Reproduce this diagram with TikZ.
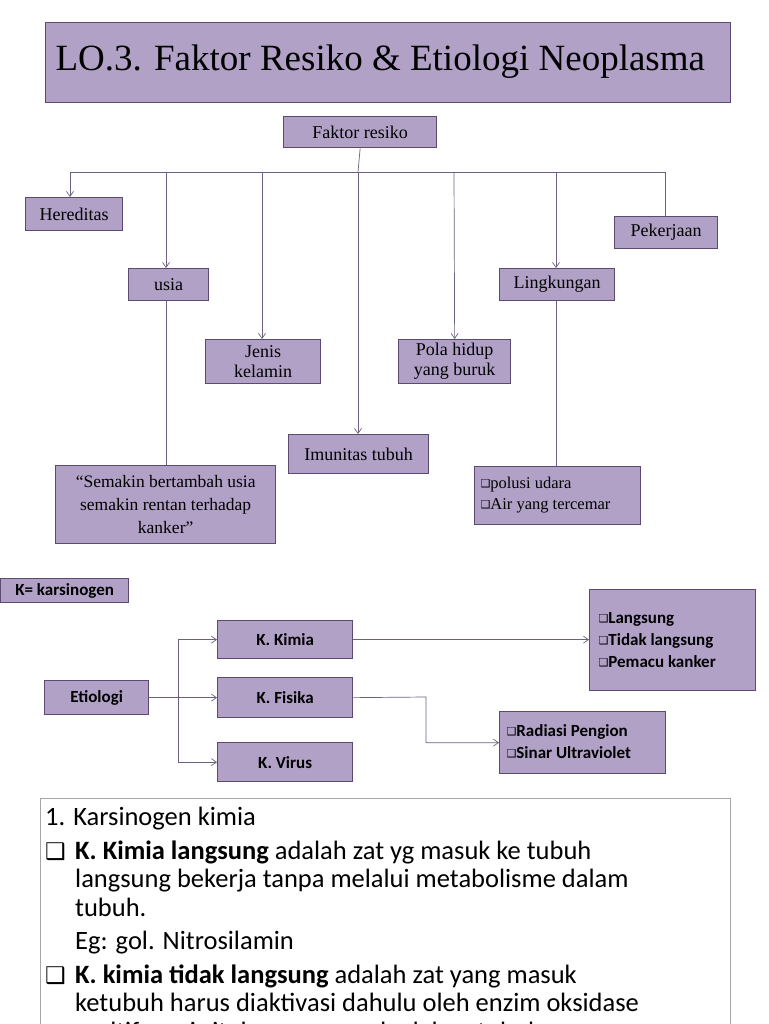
\documentclass[tikz,border=0pt]{standalone}
\usepackage{fontspec}
\setmainfont{Liberation Serif}
\newfontfamily\calfnt{Carlito}
\newfontfamily\djfnt{DejaVu Sans}
\usetikzlibrary{arrows.meta}
\definecolor{lav}{RGB}{178,161,199}
\definecolor{bd}{RGB}{92,74,114}
\definecolor{ln}{RGB}{110,96,130}
\tikzset{
 bx/.style={draw=bd,fill=lav,line width=1.3pt,inner sep=0pt,anchor=north west},
 ar/.style={draw=ln,line width=0.7pt,-{Straight Barb[length=5pt,width=7pt]}},
 pl/.style={draw=ln,line width=0.7pt},
 ft/.style={font=\fontsize{18}{20}\selectfont,align=center},
 fc/.style={font=\calfnt\bfseries\fontsize{17}{22}\selectfont,align=left},
}
\newcommand{\bxx}{{\djfnt\fontsize{11}{11}\selectfont\raisebox{1pt}{❑}}}
\begin{document}
\begin{tikzpicture}[x=1pt,y=-1pt]
\useasboundingbox (0,0) rectangle (768,1024);
\fill[white] (0,0) rectangle (768,1024);
% title
\node[bx,minimum width=685,minimum height=80] (title) at (45,22) {};
\node[anchor=west,font=\fontsize{37}{40}\selectfont] (tt) at (52,62) {LO.3. Faktor Resiko \& Etiologi Neoplasma};
% boxes
\node[bx,minimum width=153,minimum height=31] (fr) at (283,116) {};
\node[ft] at (fr.center) {Faktor resiko};
\node[bx,minimum width=97,minimum height=33] (her) at (25,197) {};
\node[ft] at (her.center) {Hereditas};
\node[bx,minimum width=80,minimum height=32] (usia) at (128,268) {};
\node[ft] at (usia.center) {usia};
\node[bx,minimum width=115,minimum height=44] (jk) at (205,339) {};
\node[ft] at (jk.center) {Jenis\\kelamin};
\node[bx,minimum width=140,minimum height=39] (imu) at (288,434) {};
\node[ft] at (imu.center) {Imunitas tubuh};
\node[bx,minimum width=112,minimum height=44] (pola) at (398,339) {};
\node[ft] at (pola.center) {Pola hidup\\yang buruk};
\node[bx,minimum width=115,minimum height=32] (ling) at (499,268) {};
\node[ft] at (ling.center) {Lingkungan};
\node[bx,minimum width=103,minimum height=32] (pek) at (614,216) {};
\node[ft] at (pek.center) {Pekerjaan};
\node[bx,minimum width=220,minimum height=78] (sem) at (55,465) {};
\node[ft,font=\fontsize{17.5}{23}\selectfont] at (sem.center) {``Semakin bertambah usia\\semakin rentan terhadap\\kanker''};
\node[bx,minimum width=166,minimum height=58] (pol) at (474,466) {};
\node[ft,align=left,font=\fontsize{16.5}{21}\selectfont,anchor=west] at (477,495) {\bxx polusi udara\\\bxx Air yang tercemar};
% connectors
\coordinate (bL) at (70,172); \coordinate (bR) at (665,172);
\draw[pl] (bL) -- (bR);
\draw[pl] (fr.south) -- (358,172);
\draw[ar] (bL) -- (her.north -| bL);
\draw[ar] (166,172) -- (usia.north -| 166,0);
\draw[ar] (262,172) -- (jk.north -| 262,0);
\draw[ar] (358,172) -- (imu.north -| 358,0);
\draw[ar] (454,172) -- (pola.north);
\draw[ar] (556,172) -- (ling.north -| 556,0);
\draw[pl] (bR) -- (pek.north -| bR);
\draw[pl] (usia.south -| 166,0) -- (sem.north -| 166,0);
\draw[pl] (ling.south -| 556,0) -- (pol.north -| 556,0);
% etiologi
\node[bx,minimum width=128,minimum height=24] (kk) at (0,578) {};
\node[fc] at (kk.center) {K= karsinogen};
\node[bx,minimum width=104,minimum height=34] (eti) at (44,680) {};
\node[fc] at (eti.center) {Etiologi};
\node[bx,minimum width=135,minimum height=38] (kim) at (217,620) {};
\node[fc] at (kim.center) {K. Kimia};
\node[bx,minimum width=135,minimum height=40] (fis) at (217,677) {};
\node[fc] at (fis.center) {K. Fisika};
\node[bx,minimum width=135,minimum height=39] (vir) at (217,742) {};
\node[fc] at (vir.center) {K. Virus};
\node[bx,minimum width=166,minimum height=101] (lan) at (589,589) {};
\node[fc,anchor=west] at (595,640) {\bxx Langsung\\\bxx Tidak langsung\\\bxx Pemacu kanker};
\node[bx,minimum width=166,minimum height=62] (rad) at (499,711) {};
\node[fc,anchor=west] at (503,742) {\bxx Radiasi Pengion\\\bxx Sinar Ultraviolet};
\coordinate (br) at (178,697);
\draw[ar] (eti.east) -- (fis.west);
\draw[ar] (br) |- (kim.west);
\draw[ar] (br) |- (vir.west);
\draw[ar] (kim.east) -- (lan.west |- kim.east);
\draw[ar] (fis.east) -- (426,697) |- (rad.west);
% text box
\begin{scope}
\clip (0,0) rectangle (768,1024);
\draw[draw=gray!70,fill=white,line width=0.8pt] (40,798) rectangle (730,1040);
\node[anchor=north west,align=flush left,font=\calfnt\fontsize{26.5}{28.5}\selectfont,text width=685,inner sep=0pt] (txt) at (45,807) {%
1. Karsinogen kimia\\[5pt]
\makebox[30pt][l]{\djfnt\fontsize{23}{23}\selectfont❑}\textbf{K. Kimia langsung} adalah zat yg masuk ke tubuh\\
\hspace*{30pt}langsung bekerja tanpa melalui metabolisme dalam\\
\hspace*{30pt}tubuh.\\[5pt]
\hspace*{30pt}Eg: gol. Nitrosilamin\\[5pt]
\makebox[30pt][l]{\djfnt\fontsize{23}{23}\selectfont❑}\textbf{K. kimia tidak langsung} adalah zat yang masuk\\
\hspace*{30pt}ketubuh harus diaktivasi dahulu oleh enzim oksidase\\
\hspace*{30pt}multifungsi sitokrom yang ada dalam tubuh};
\end{scope}
\end{tikzpicture}
\end{document}
